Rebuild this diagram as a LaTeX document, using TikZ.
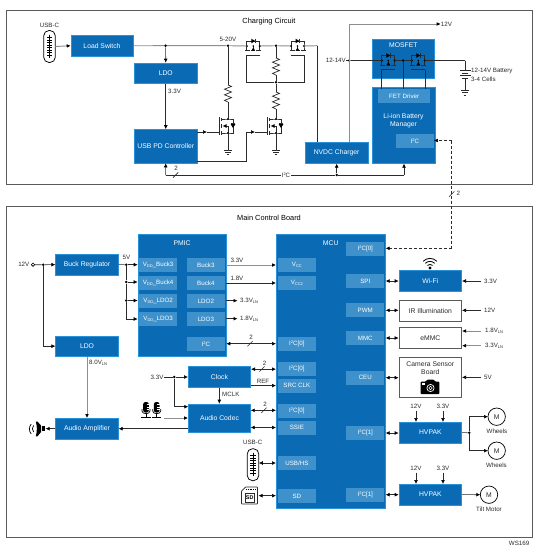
\documentclass[tikz,border=0pt]{standalone}
\usepackage{fontspec}
\setmainfont{Liberation Sans}
\usetikzlibrary{arrows.meta,calc}
\definecolor{bl}{HTML}{0A6AB4}
\definecolor{bledge}{HTML}{2A92D8}
\definecolor{lbl}{HTML}{3F91CC}
\definecolor{ink}{HTML}{2B2B2B}
\definecolor{pw}{HTML}{8E8E8E}
\definecolor{fr}{HTML}{5A5A5A}
\newcommand{\fa}{\fontsize{6.8}{8.4}\selectfont}
\newcommand{\fb}{\fontsize{6.2}{8.4}\selectfont}
\newcommand{\ft}{\fontsize{7.4}{9}\selectfont}
\newcommand{\mysub}[1]{\raisebox{-1pt}{\fontsize{4}{5}\selectfont #1}}
\newcommand{\myIIC}{I\raisebox{2pt}{\fontsize{4}{5}\selectfont 2}C}
\newcommand{\bx}[7]{\node[#1,minimum width={(#5-#3)*1pt},minimum height={(#6-#4)*1pt}] (#2) at ({(#3+#5)/2},{(#4+#6)/2}) {#7};}
\tikzset{
 x=1pt,y=-1pt,
 >={Latex[length=4pt,width=3.8pt,black]},
 frame/.style={draw=fr,line width=0.9pt,inner sep=0pt},
 bbox/.style={fill=bl,draw=bledge,line width=0.6pt,text=white,font=\fa,inner sep=0pt,align=center},
 sbox/.style={fill=lbl,text=white,font=\fb,inner sep=0pt,align=center},
 wbox/.style={fill=white,draw=fr,line width=0.7pt,text=ink,font=\fa,inner sep=0pt,align=center},
 lab/.style={text=ink,font=\fb,inner sep=0pt,align=left},
 ttl/.style={text=black,font=\ft,inner sep=0pt},
 sig/.style={draw=ink,line width=0.62pt},
 pwr/.style={draw=pw,line width=0.95pt},
 dash1/.style={draw=ink,line width=0.65pt,dash pattern=on 3pt off 2pt},
 dot/.style={circle,fill=black,inner sep=0pt,minimum size=2.8pt},
 vfet/.pic={
  \draw[sig,line width=0.7pt] (-9,-9)--(-9,9);
  \draw[sig,line width=0.9pt] (-6.5,-8.5)--(-6.5,-5) (-6.5,-2)--(-6.5,2) (-6.5,5)--(-6.5,8.5);
  \draw[sig] (-6.5,-7)--(0,-7)--(5,-7)--(5,7)--(0,7)--(-6.5,7);
  \draw[sig] (0,7)--(0,0);
  \draw[sig,->] (0,0)--(-5.5,0);
  \fill[black] (5,2)--(2.6,-2)--(7.4,-2)--cycle;
  \draw[sig] (2.6,-2.4)--(7.4,-2.4);
  \fill (0,-7) circle (1.2) (0,7) circle (1.2);
  \coordinate (-d) at (0,-7); \coordinate (-s) at (0,7); \coordinate (-g) at (-9,6);
 },
 hfet/.pic={
  \draw[sig] (-6.5,0)--(-6.5,-5)--(6.5,-5)--(6.5,0)--(6.5,4.5) (-6.5,0)--(-6.5,4.5) (0,0)--(0,4.5);
  \fill[black] (2,-5)--(-2,-7.3)--(-2,-2.7)--cycle;
  \draw[sig] (2.3,-7.3)--(2.3,-2.7);
  \draw[sig,line width=0.9pt] (-8,4.5)--(-3,4.5) (-2,4.5)--(2,4.5) (3,4.5)--(8,4.5);
  \draw[sig,line width=0.9pt] (-7,9)--(7,9);
  \fill[black] (0,1.5)--(-1.8,4.5)--(1.8,4.5)--cycle;
  \fill (-6.5,0) circle (1.2) (6.5,0) circle (1.2) (0,0) circle (0.9);
  \coordinate (-a) at (-6.5,0); \coordinate (-b) at (6.5,0);
  \coordinate (-l) at (-6.6,9); \coordinate (-r) at (7,9);
 },
 resist/.pic={
  \draw[sig,line width=0.7pt] (0,0)--(3.5,1.4)--(-3.5,4.2)--(3.5,7)--(-3.5,9.8)--(3.5,12.6)--(-3.5,15.4)--(0,17);
  \coordinate (-t) at (0,0); \coordinate (-b) at (0,17);
 },
 gnd/.pic={
  \draw[sig,line width=0.7pt] (-3.6,0)--(3.6,0) (-2.6,2.2)--(2.6,2.2) (-1.4,4.4)--(1.4,4.4);
  \coordinate (-t) at (0,0);
 },
 tick/.pic={\draw[sig,line width=0.6pt] (-2.6,2.6)--(2.6,-2.6);},
 usbc/.pic={
  \draw[draw=black,line width=0.75pt,fill=white,rounded corners=5.3pt] (-5.8,-16)rectangle(5.8,16);
  \draw[black,line width=1pt] (0,-12)--(0,11);
  \foreach \yy in {-9,-6.5,...,10} {\draw[black,line width=0.45pt] (-2.6,\yy)--(2.6,\yy);}
  \coordinate (-e) at (5.8,0);
 },
 mic/.pic={
  \fill[black,rounded corners=2.2pt] (-2.8,0)rectangle(2.8,10.5);
  \draw[white,line width=0.4pt] (0.5,2.5)--(2.8,2.5) (0.5,5)--(2.8,5) (0.5,7.5)--(2.8,7.5);
  \draw[black,line width=0.7pt] (-4,7)--(-4,9)..controls(-4,12.5)and(4,12.5)..(4,9)--(4,7);
  \draw[black,line width=0.9pt] (0,12)--(0,15.5);
  \draw[black,line width=0.9pt] (-4.6,15.7)--(4.6,15.7);
 },
 motor/.pic={
  \draw[black,line width=0.7pt,fill=white] (0,0) circle (8.7);
  \node[text=ink,font=\fa] at (0,0) {M};
 }
}
\begin{document}
\begin{tikzpicture}
\useasboundingbox (0,0) rectangle (538,550);
\fill[white] (0,0) rectangle (538,550);
\bx{frame}{fchg}{6}{10}{532}{184}{}
\bx{frame}{fmain}{6}{206}{532}{537}{}
\node[ttl] (tchg) at (269,22) {Charging Circuit};
\node[ttl] (tmain) at (269,217.7) {Main Control Board};
\node[text=ink,font=\fb,inner sep=0pt,anchor=east] (ws) at (529.5,543.3) {WS169};
% ---------- charging boxes
\bx{bbox}{load}{71}{35.5}{133}{56}{Load Switch}
\bx{bbox}{ldoa}{134.5}{63}{197}{83.5}{LDO}
\bx{bbox}{pd}{134.5}{129.5}{197}{163}{USB PD Controller}
\bx{bbox}{nvdc}{305.3}{142.3}{368}{163.3}{NVDC Charger}
\bx{bbox}{mosf}{372}{39}{434.7}{78.3}{}
\node[text=white,font=\fa,inner sep=0pt] (mosl) at (403.3,45.3) {MOSFET};
\bx{bbox}{lion}{372.7}{87.3}{435}{163.3}{}
\bx{sbox}{fetd}{378.3}{89}{430}{102.7}{FET Driver}
\node[text=white,font=\fa,align=center,inner sep=0pt] (lionl) at (403.5,120.8) {Li-ion Battery\\Manager};
\bx{sbox}{liic}{396}{134.3}{433.7}{147.7}{\myIIC}
\pic (uc1) at (49.5,46.5) {usbc};
\node[lab] (uc1l) at (49.5,25) {USB-C};
% FETs
\pic (qa) at (228,126) {vfet};
\pic (qb) at (276,126) {vfet};
\pic (ta) at (253.3,46) {hfet};
\pic (tb) at (297.5,46) {hfet};
\pic (ma) at (388.3,60.5) {hfet};
\pic (mb) at (418.3,60.5) {hfet};
\pic (ra) at (228,85) {resist};
\pic (rb) at (276,58) {resist};
\pic (rc) at (276,92) {resist};
\pic (ga) at (228,150) {gnd};
\pic (gb) at (276,150) {gnd};
\pic (gc) at (465,90.5) {gnd};
% junctions
\node[dot] (j1) at (165.6,45.7) {};
\node[dot] (j2) at (228,45.7) {};
\node[dot] (j3) at (276,45.7) {};
\node[dot] (j4) at (276,82.3) {};
\node[dot] (j5) at (349.3,60.5) {};
\node[dot] (j6) at (403.3,60.5) {};
\node[dot] (j7) at (336.7,175) {};
\coordinate (cr1) at (317.3,45.7);
\coordinate (cr2) at (349.3,24);
\node[lab,anchor=west] (v12) at (440.7,24) {12V};
\node[lab,anchor=east] (v1214) at (346,60.5) {12-14V};
\node[lab] (v520) at (228,39) {5-20V};
\node[lab,anchor=west] (v33a) at (168,91.5) {3.3V};
\node[lab,anchor=west] (batt) at (471,75) {12-14V Battery\\3-4 Cells};
\draw[pwr,->] (uc1-e)--(load.west);
\draw[pwr] (load.east)--(j1)--(j2)--(ta-a);
\draw[pwr] (ta-b)--(j3)--(tb-a);
\draw[pwr] (tb-b)--(cr1);
\draw[sig] (cr1)--(cr1|-nvdc.north);
\draw[sig,->] (j1)--(ldoa.north);
\draw[sig,->] (ldoa.south)--(pd.north);
\draw[sig] (j2)--(ra-t) (ra-b)--(qa-d);
\draw[sig] (j3)--(rb-t) (rb-b)--(j4)--(rc-t) (rc-b)--(qb-d);
\draw[sig] (qa-s)--(ga-t) (qb-s)--(gb-t);
\coordinate (ga1) at (207,132);
\coordinate (gb1) at (255,132);
\draw[sig,->] (pd.east|-ga1)--(ga1);
\draw[sig] (ga1)--(qa-g);
\coordinate (cg) at (246.7,161);
\draw[sig,->] (pd.east|-cg)--(cg)--(cg|-qb-g)--(gb1);
\draw[sig] (gb1)--(qb-g);
\draw[sig] (ta-l)|-(j4)-|(tb-r);
\draw[pwr] (nvdc.north-|j5)--(cr2);
\draw[pwr,->] (cr2)--(v12.west);
\draw[sig] (j5)--(ma-a) (ma-b)--(j6)--(mb-a) (mb-b)--(465,60.5) coordinate (cb);
\draw[sig] (v1214.east)--(j5);
\draw[sig] (cb)--(465,69.5) coordinate (cb1);
\draw[sig,line width=0.8pt] (459.5,70.5)--(470.5,70.5) (461.8,73)--(468.2,73) (459.5,75.5)--(470.5,75.5) (461.8,78)--(468.2,78);
\draw[sig] (465,78)--(gc-t);
\draw[sig] (ma-l)--(ma-l|-fetd.north) (j6)--(j6|-fetd.north) (mb-r)--(mb-r|-fetd.north);
% I2C bus
\coordinate (busl) at (165.6,175);
\coordinate (busr) at (404,175);
\node[fill=white,lab,inner sep=1pt] (iicl) at (286,175) {\myIIC};
\draw[sig] (busl)--(iicl)--(j7)--(busr);
\draw[sig,->] (busl)--(pd.south);
\draw[sig,->] (j7)--(j7|-nvdc.south);
\draw[sig,->] (busr)--(busr|-lion.south);
\pic at (175.6,175) {tick};
\node[lab] (n2a) at (176,168.5) {2};
% ---------- main board
\bx{bbox}{buck}{55.7}{254.3}{118.3}{275}{Buck Regulator}
\bx{bbox}{ldob}{55.7}{336}{118.3}{356.3}{LDO}
\bx{bbox}{amp}{55.7}{418.3}{118.3}{439}{Audio Amplifier}
\bx{bbox}{pmic}{138}{234}{226}{356}{}
\node[text=white,font=\fa,inner sep=0pt] (pmicl) at (182,243) {PMIC};
\bx{sbox}{vb3}{139.3}{258}{177}{272}{V\mysub{DD}\_Buck3}
\bx{sbox}{vb4}{139.3}{276}{177}{290}{V\mysub{DD}\_Buck4}
\bx{sbox}{vl2}{139.3}{294}{177}{308}{V\mysub{DD}\_LDO2}
\bx{sbox}{vl3}{139.3}{312}{177}{326}{V\mysub{DD}\_LDO3}
\bx{sbox}{b3}{186.7}{258}{225}{272}{Buck3}
\bx{sbox}{b4}{186.7}{276}{225}{290}{Buck4}
\bx{sbox}{l2}{186.7}{294}{225}{308}{LDO2}
\bx{sbox}{l3}{186.7}{312}{225}{326}{LDO3}
\bx{sbox}{piic}{186.7}{336.7}{225}{350.7}{\myIIC}
\bx{bbox}{mcu}{276.3}{234}{385.3}{508.3}{}
\node[text=white,font=\fa,inner sep=0pt] (mcul) at (330.7,243) {MCU};
\bx{sbox}{vcc}{278}{258}{315.7}{272}{V\mysub{CC}}
\bx{sbox}{vcc2}{278}{276}{315.7}{290}{V\mysub{CC2}}
\bx{sbox}{mi1}{278}{336.7}{315.7}{350.7}{\myIIC[0]}
\bx{sbox}{mi2}{278}{362.3}{315.7}{376}{\myIIC[0]}
\bx{sbox}{src}{278}{378.7}{315.7}{392.7}{SRC CLK}
\bx{sbox}{mi3}{278}{403.7}{315.7}{417.7}{\myIIC[0]}
\bx{sbox}{ssie}{278}{420.7}{315.7}{434.7}{SSIE}
\bx{sbox}{uhs}{278}{456}{315.7}{470}{USB/HS}
\bx{sbox}{sd}{278}{489.3}{315.7}{503.3}{SD}
\bx{sbox}{ri0}{346.3}{241.7}{384.3}{255.7}{\myIIC[0]}
\bx{sbox}{spi}{346.3}{274}{384.3}{288}{SPI}
\bx{sbox}{pwm}{346.3}{303.3}{384.3}{317.3}{PWM}
\bx{sbox}{mmc}{346.3}{331}{384.3}{345}{MMC}
\bx{sbox}{ceu}{346.3}{370.7}{384.3}{384.7}{CEU}
\bx{sbox}{ri1}{346.3}{426}{384.3}{440}{\myIIC[1]}
\bx{sbox}{ri2}{346.3}{487.7}{384.3}{501.7}{\myIIC[1]}
\bx{bbox}{clk}{188.3}{366.7}{250.7}{387.3}{Clock}
\bx{bbox}{codec}{188.3}{404}{250.7}{432.7}{Audio Codec}
\bx{bbox}{wifi}{399}{270.7}{461.7}{291.7}{Wi-Fi}
\bx{wbox}{ir}{399}{300}{461.7}{321.3}{IR Illumination}
\bx{wbox}{emmc}{399}{327.3}{461.7}{348.7}{eMMC}
\bx{wbox}{cam}{399}{357.3}{461.7}{397.3}{}
\node[text=ink,font=\fa,align=center,inner sep=0pt] (caml) at (430.3,368) {Camera Sensor\\Board};
\bx{bbox}{hv1}{399}{422.3}{461.7}{443}{HVPAK}
\bx{bbox}{hv2}{399}{484.3}{461.7}{505}{HVPAK}
% left power
\node[lab,anchor=east] (v12i) at (29.5,264.7) {12V};
\draw[black,line width=0.6pt] (33,264.7) circle (1.7);
\coordinate (oc) at (34.7,264.7);
\node[dot] (j10) at (43.3,264.7) {};
\draw[sig,->] (oc)--(j10)--(buck.west);
\draw[sig,->] (j10)|-(ldob.west);
\node[lab] (v5) at (126.5,257.5) {5V};
\node[dot] (j11) at (126.3,264.7) {};
\node[dot] (j12) at (126.3,282) {};
\node[dot] (j13) at (126.3,300.5) {};
\draw[sig] (buck.east)--(j11);
\draw[sig,->] (j11)--(pmic.west|-j11);
\draw[sig,->] (j12)--(pmic.west|-j12);
\draw[sig,->] (j13)--(pmic.west|-j13);
\draw[sig,->] (j11)--(j12)--(j13)|-(pmic.west|-vl3);
\draw[pwr,->] (pmic.east|-b3)--(mcu.west|-b3);
\draw[sig,->] (pmic.east|-b4)--(mcu.west|-b4);
\node[lab] (v33p) at (237,260.5) {3.3V};
\node[lab] (v18p) at (237,278) {1.8V};
\coordinate (pl2) at (237.5,300.7);
\coordinate (pl3) at (237.5,318.7);
\draw[sig,->] (pmic.east|-pl2)--(pl2);
\draw[sig,->] (pmic.east|-pl3)--(pl3);
\node[lab,anchor=west] (v33l) at (240,300.7) {3.3V\mysub{LN}};
\node[lab,anchor=west] (v18l) at (240,318.7) {1.8V\mysub{LN}};
\draw[sig,<->] (pmic.east|-piic)--(mcu.west|-piic);
\pic at (250,343.7) {tick};
\node[lab] (n2b) at (251,337) {2};
\draw[pwr,->] (ldob.south)--(amp.north);
\node[lab,anchor=west] (v8) at (89,362.5) {8.0V\mysub{LN}};
% clock / codec
\node[lab,anchor=east] (v33c) at (163.7,377) {3.3V};
\node[dot] (j14) at (174.3,377) {};
\draw[sig,->] (v33c.east)--(j14)--(clk.west);
\coordinate (cc1) at (188.3,406.7);
\draw[sig,->] (j14)|-(cc1);
\draw[sig,->] (clk.south-|219.3,0)--(codec.north-|219.3,0);
\node[lab,anchor=west] (mclk) at (222,394.5) {MCLK};
\draw[sig,<->] (clk.east|-mi2)--(mcu.west|-mi2);
\pic at (262,369) {tick};
\node[lab] (n2c) at (264.5,363) {2};
\coordinate (crf) at (250.7,385.6);
\draw[sig,->] (crf)--(mcu.west|-crf);
\node[lab] (refl) at (263,381) {REF};
\coordinate (cc2) at (250.7,410.3);
\draw[sig,<->] (cc2)--(mcu.west|-cc2);
\pic at (264,410.3) {tick};
\node[lab] (n2d) at (265,404.5) {2};
\coordinate (cc3) at (250.7,427.5);
\draw[sig,<->] (cc3)--(mcu.west|-cc3);
\pic at (146,402) {mic};
\pic at (156.7,402) {mic};
\coordinate (cm) at (164,418);
\draw[pwr,->] (cm)--(codec.west|-cm);
\coordinate (ca) at (188.3,428.7);
\draw[sig,->] (ca)--(amp.east|-ca);
% speaker
\coordinate (spk) at (45.5,428.7);
\draw[sig,->] (amp.west|-spk)--(spk);
\fill[black] (41.7,426)rectangle(45,431.4);
\fill[black] (35.8,421.5)--(37.5,421.5)--(41,425.5)--(41,432)--(37.5,436.3)--(35.8,436.3)..controls(37.2,431)and(37.2,426.5)..cycle;
\draw[black,line width=0.7pt] (33.6,425.5)..controls(32,427.5)and(32,430)..(33.6,432);
\draw[black,line width=0.7pt] (31.2,424)..controls(28.8,427)and(28.8,431)..(31.2,434);
% USB-C and SD on the MCU
\node[lab] (uc2l) at (252.7,442.7) {USB-C};
\pic (uc2) at (253,464.7) {usbc};
\draw[sig,<->] (uc2-e|-uhs)--(mcu.west|-uhs);
\coordinate (sdr) at (258.5,495.7);
\draw[sig,<->] (sdr)--(mcu.west|-sdr);
\draw[draw=ink,line width=0.7pt,fill=white,rounded corners=0.6pt] (241.5,491)--(245.5,487)--(257.5,487)--(257.5,504)--(241.5,504)--cycle;
\draw[black,line width=0.8pt,dash pattern=on 1pt off 0.8pt] (246,489.5)--(256.5,489.5);
\draw[draw=ink,line width=0.6pt,fill=white] (245,493.5) rectangle (254.5,502);
\node[text=black,font=\fontsize{5.4}{6}\selectfont\bfseries,inner sep=0pt] (sdl) at (249.7,498) {SD};
% right side of MCU
\draw[dash1,->] (451.7,140.5) coordinate (dj)--(liic.east|-dj);
\draw[dash1] (dj)--(451.7,248.3) coordinate (dk);
\draw[dash1,->] (dk)--(mcu.east|-dk);
\pic at (451.7,194) {tick};
\node[lab] (n2e) at (458.3,193.7) {2};
\draw[sig,<->] (mcu.east|-spi)--(wifi.west|-spi);
\draw[sig,<->] (mcu.east|-pwm)--(ir.west|-pwm);
\draw[sig,<->] (mcu.east|-mmc)--(emmc.west|-mmc);
\draw[sig,<->] (mcu.east|-ceu)--(cam.west|-ceu);
\draw[sig,<->] (mcu.east|-ri1)--(hv1.west|-ri1);
\draw[sig,<->] (mcu.east|-ri2)--(hv2.west|-ri2);
% wifi icon
\fill[black] (430,268) circle (1.6);
\foreach \rr in {3.6,6.6,9.6} {\draw[black,line width=0.85pt] ({430+\rr*cos(45)},{268-\rr*sin(45)}) arc[start angle=45,end angle=135,radius=\rr pt];}
% camera icon
\fill[black,rounded corners=0.8pt] (420.7,381.5)--(426,381.5)--(427,379.7)--(434,379.7)--(435,381.5)--(439.3,381.5)--(439.3,394)--(420.7,394)--cycle;
\fill[white] (422.3,382.7) rectangle (425,384.5);
\draw[white,line width=0.7pt] (430.5,388) circle (3.6);
\draw[white,line width=0.5pt] (430.5,388) circle (1.8);
% inputs
\node[lab,anchor=west] (i1) at (484,281) {3.3V};
\node[lab,anchor=west] (i2) at (484,310.3) {12V};
\node[lab,anchor=west] (i3) at (485,331) {1.8V\mysub{LN}};
\node[lab,anchor=west] (i4) at (485,345.7) {3.3V\mysub{LN}};
\node[lab,anchor=west] (i5) at (484,377.3) {5V};
\draw[sig,->] (i1.west)++(-3,0)--(wifi.east|-i1);
\draw[sig,->] (i2.west)++(-3,0)--(ir.east|-i2);
\draw[pwr,->] (i3.west)++(-4,0)--(emmc.east|-i3);
\draw[pwr,->] (i4.west)++(-4,0)--(emmc.east|-i4);
\draw[sig,->] (i5.west)++(-3,0)--(cam.east|-i5);
% HVPAK
\foreach \nm/\xx/\tx in {a/416/12V,b/443/3.3V}{
  \node[lab] (h1\nm) at (\xx,406.7) {\tx};
  \node[lab] (h2\nm) at (\xx,468.7) {\tx};
  \draw[sig,->] (h1\nm.south)++(0,1.5)--(hv1.north-|h1\nm);
  \draw[sig,->] (h2\nm.south)++(0,1.5)--(hv2.north-|h2\nm);
}
\node[dot] (j20) at (469.3,432.7) {};
\pic (m1) at (496.7,416.7) {motor};
\pic (m2) at (496.7,450.7) {motor};
\pic (m3) at (489,494.7) {motor};
\coordinate (m1w) at (488,416.7);
\coordinate (m2w) at (488,450.7);
\coordinate (m3w) at (480.3,494.7);
\draw[sig] (hv1.east)--(j20);
\draw[sig,->] (j20)|-(m1w);
\draw[sig,->] (j20)|-(m2w);
\draw[sig,->] (hv2.east)--(m3w);
\node[lab] (w1) at (497,431) {Wheels};
\node[lab] (w2) at (496.5,465) {Wheels};
\node[lab] (w3) at (489,509.7) {Tilt Motor};
\end{tikzpicture}
\end{document}
